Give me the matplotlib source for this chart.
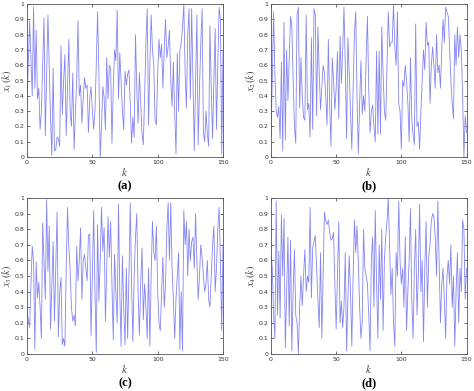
import matplotlib
matplotlib.use("Agg")
import matplotlib.pyplot as plt
import numpy as np

plt.rcParams["mathtext.fontset"] = "stix"

k = np.arange(151)

x1 = [0.35, 0.62, 0.89, 0.65, 0.40, 0.98, 0.45, 0.83, 0.38, 0.45,
      0.18, 0.30, 0.60, 0.91, 0.14, 0.55, 0.93, 0.60, 0.25, 0.01,
      0.58, 0.04, 0.05, 0.13, 0.12, 0.07, 0.73, 0.28, 0.50, 0.67,
      0.14, 0.45, 0.77, 0.30, 0.20, 0.55, 0.05, 0.27, 0.50, 0.89,
      0.40, 0.47, 0.22, 0.38, 0.52, 0.45, 0.47, 0.16, 0.38, 0.46,
      0.30, 0.18, 0.30, 0.60, 0.95, 0.55, 0.00, 0.20, 0.46, 0.39,
      0.18, 0.65, 0.38, 0.60, 0.58, 0.09, 0.45, 0.70, 0.63, 0.96,
      0.38, 0.68, 0.50, 0.30, 0.18, 0.56, 0.47, 0.54, 0.57, 0.35,
      0.09, 0.26, 0.13, 0.80, 0.45, 0.22, 0.55, 0.35, 0.15, 0.08,
      0.40, 0.75, 0.97, 0.21, 0.60, 0.93, 0.70, 0.60, 0.24, 0.21,
      0.55, 0.77, 0.65, 0.74, 0.45, 0.70, 0.90, 0.65, 0.72, 0.83,
      0.50, 0.33, 0.62, 0.30, 0.02, 0.68, 0.30, 0.70, 0.75, 0.85,
      1.00, 0.55, 0.32, 0.80, 0.97, 0.38, 0.97, 0.50, 0.04, 0.50,
      0.93, 0.08, 0.45, 0.75, 0.97, 0.16, 0.10, 0.30, 0.15, 0.07,
      0.86, 0.45, 0.12, 0.50, 0.84, 0.18, 0.60, 0.98, 0.90, 0.02,
      0.70]

x2 = [0.14, 0.50, 0.95, 0.55, 0.30, 0.26, 0.33, 0.12, 0.62, 0.04,
      0.88, 0.11, 0.70, 0.37, 0.65, 0.92, 0.85, 0.50, 0.20, 0.09,
      0.93, 0.98, 0.32, 0.65, 0.40, 0.26, 0.24, 0.93, 0.31, 0.35,
      0.13, 0.78, 0.18, 0.97, 0.93, 0.27, 0.85, 0.55, 0.31, 0.45,
      0.60, 0.55, 0.40, 0.21, 0.77, 0.35, 0.07, 0.65, 0.50, 0.31,
      0.45, 0.69, 0.25, 0.79, 0.48, 0.70, 0.98, 0.60, 0.12, 0.78,
      0.55, 0.30, 0.05, 0.45, 0.80, 0.95, 0.40, 0.02, 0.35, 0.63,
      0.28, 0.40, 0.30, 0.65, 0.92, 0.45, 0.16, 0.30, 0.34, 0.20,
      0.10, 0.69, 0.15, 0.69, 0.15, 0.85, 0.55, 0.30, 0.24, 0.60,
      0.95, 0.72, 0.75, 0.75, 1.00, 0.72, 0.60, 0.95, 0.35, 0.30,
      0.05, 0.50, 0.46, 0.60, 0.50, 0.35, 0.10, 0.65, 0.25, 0.15,
      0.08, 0.87, 0.20, 0.23, 0.05, 0.30, 0.50, 0.70, 0.57, 0.88,
      0.73, 0.75, 0.35, 0.60, 0.72, 0.60, 0.45, 0.80, 0.55, 0.60,
      0.45, 0.70, 0.90, 0.75, 0.98, 0.95, 0.92, 0.72, 0.50, 0.35,
      0.25, 0.80, 0.60, 0.85, 0.65, 0.80, 0.70, 0.40, 0.00, 0.27,
      0.16]

x3 = [0.27, 0.22, 0.17, 0.45, 0.69, 0.60, 0.03, 0.59, 0.36, 0.46,
      0.30, 0.10, 0.84, 0.60, 0.35, 0.99, 0.53, 0.82, 0.16, 0.45,
      0.72, 0.21, 0.55, 0.91, 0.11, 0.40, 0.49, 0.06, 0.10, 0.05,
      0.55, 0.94, 0.68, 0.54, 0.30, 0.21, 0.25, 0.18, 0.69, 0.47,
      0.60, 0.81, 0.35, 0.60, 0.64, 0.55, 0.47, 0.76, 0.77, 0.12,
      0.50, 0.92, 0.40, 0.01, 0.83, 0.34, 0.60, 0.94, 0.66, 0.81,
      0.21, 0.55, 0.88, 0.62, 0.85, 0.45, 0.09, 0.64, 0.40, 0.20,
      0.96, 0.40, 0.05, 0.63, 0.30, 0.06, 0.55, 0.10, 0.50, 0.97,
      0.45, 0.08, 0.50, 0.75, 0.90, 0.40, 0.12, 0.45, 0.68, 0.22,
      0.45, 0.30, 0.10, 0.55, 0.05, 0.50, 0.85, 0.65, 0.60, 0.82,
      0.40, 0.20, 0.15, 0.40, 0.62, 0.30, 0.45, 0.80, 0.97, 0.60,
      0.97, 0.55, 0.35, 0.10, 0.35, 0.50, 0.65, 0.03, 0.40, 0.02,
      0.92, 0.70, 0.85, 0.50, 0.80, 0.60, 0.72, 0.75, 0.55, 0.90,
      0.60, 0.35, 0.50, 0.70, 0.62, 0.50, 0.40, 0.45, 0.60, 0.35,
      0.30, 0.50, 0.70, 0.82, 0.40, 0.55, 0.80, 0.94, 0.60, 0.15,
      0.70]

x4 = [0.65, 0.55, 0.25, 0.10, 0.98, 0.25, 0.66, 0.23, 0.89, 0.50,
      0.87, 0.04, 0.40, 0.75, 0.18, 0.73, 0.02, 0.40, 0.67, 0.25,
      0.20, 0.00, 0.30, 0.50, 0.31, 0.50, 0.67, 0.40, 0.50, 0.46,
      0.94, 0.36, 0.68, 0.72, 0.76, 0.55, 0.35, 0.17, 0.65, 0.10,
      0.50, 0.91, 0.85, 0.83, 0.86, 0.78, 0.73, 0.74, 0.78, 0.45,
      0.16, 0.50, 0.85, 0.20, 0.34, 0.17, 0.30, 0.65, 0.02, 0.35,
      0.63, 0.40, 0.05, 0.50, 0.86, 0.65, 0.82, 0.60, 0.30, 0.10,
      0.20, 0.80, 0.55, 0.50, 0.45, 0.25, 0.02, 0.60, 0.75, 0.30,
      0.92, 0.45, 0.10, 0.70, 0.35, 0.80, 0.15, 0.60, 0.75, 0.85,
      1.00, 0.70, 0.38, 0.55, 0.20, 0.05, 0.65, 0.50, 0.98, 0.60,
      0.45, 0.55, 0.30, 0.75, 0.15, 0.40, 0.60, 0.93, 0.35, 0.10,
      0.55, 0.80, 0.25, 0.50, 0.96, 0.40, 0.60, 0.08, 0.55, 0.85,
      0.30, 0.62, 0.70, 0.85, 0.90, 0.88, 0.75, 0.50, 0.98, 0.60,
      0.20, 0.45, 0.55, 0.35, 0.10, 0.50, 0.60, 0.45, 0.70, 0.30,
      0.50, 0.05, 0.40, 0.65, 0.20, 0.55, 0.40, 0.86, 0.80, 0.35,
      0.55]

series = [x1, x2, x3, x4]
ylabels = ["$x_1(k)$", "$x_2(k)$", "$x_3(k)$", "$x_4(k)$"]
tags = ["(a)", "(b)", "(c)", "(d)"]

# axes boxes in figure fractions: left, bottom, width, height
boxes = [(0.057, 0.5985, 0.4135, 0.391),
         (0.5717, 0.5985, 0.4125, 0.391),
         (0.057, 0.0946, 0.4135, 0.399),
         (0.5717, 0.0946, 0.4125, 0.399)]

fig = plt.figure(figsize=(4.74, 3.91), dpi=100)

for i in range(4):
    ax = fig.add_axes(boxes[i])
    ax.plot(k, series[i], color="#8585f4", lw=0.6)
    ax.set_xlim(0, 150)
    ax.set_ylim(0, 1)
    ax.set_xticks([0, 50, 100, 150])
    ax.set_yticks(np.arange(0, 1.01, 0.1))
    ax.set_yticklabels(["0", "0.1", "0.2", "0.3", "0.4", "0.5",
                        "0.6", "0.7", "0.8", "0.9", "1"])
    ax.tick_params(direction="in", length=2, width=0.5, labelsize=4.5,
                   pad=2, top=True, right=True, colors="#333333")
    for s in ax.spines.values():
        s.set_linewidth(0.6)
        s.set_color("#555555")
    ax.set_xlabel("$k$", fontsize=8, labelpad=1, color="#444444")
    ax.set_ylabel(ylabels[i], fontsize=7.5, color="#444444")
    ax.yaxis.set_label_coords(-0.068, 0.5)

    left, bottom, width, height = boxes[i]
    fig.text(left + width / 2, bottom - 0.075, tags[i],
             ha="center", va="center", fontsize=9,
             fontweight="bold", family="Liberation Serif")

fig.savefig("out.png", dpi=100)
